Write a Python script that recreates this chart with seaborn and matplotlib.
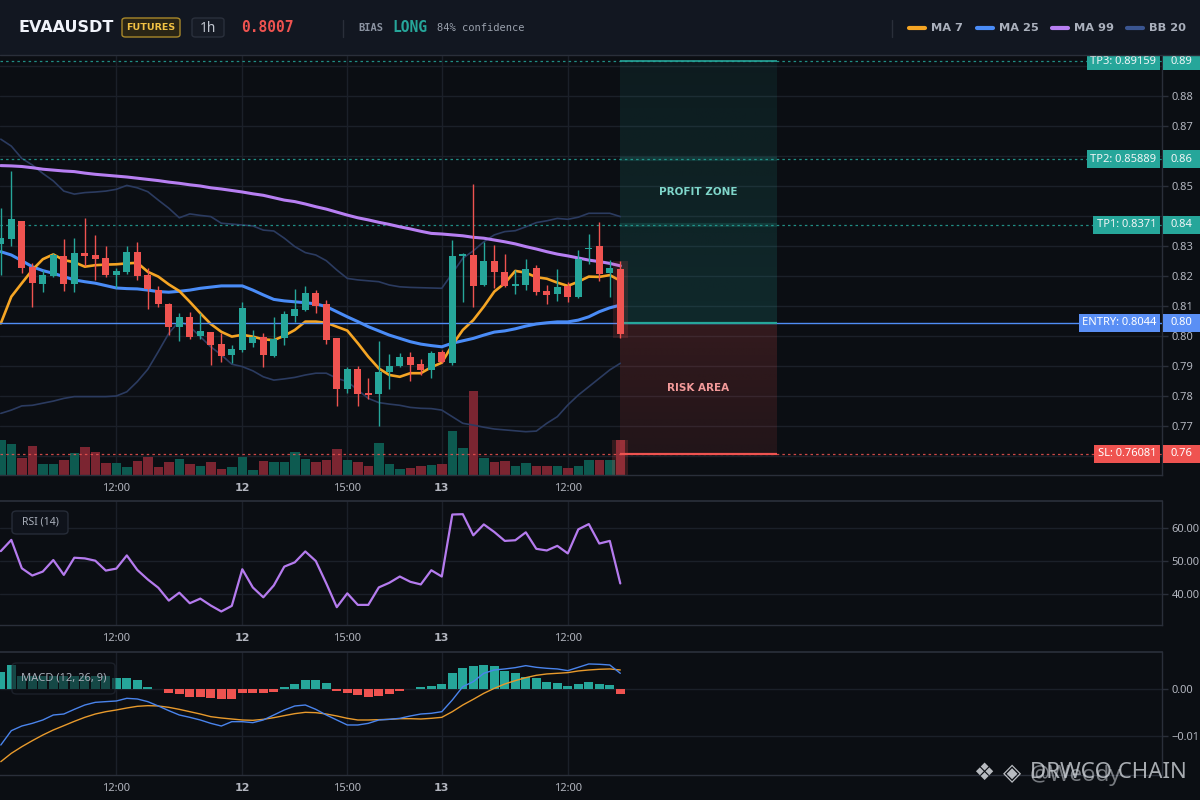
import numpy as np
import matplotlib
matplotlib.use("Agg")
import matplotlib.pyplot as plt
from matplotlib.patches import Rectangle, FancyBboxPatch
from matplotlib.lines import Line2D
from matplotlib.colors import to_rgb
import seaborn as sns

# ---------------- data ----------------
symbol = "EVAAUSDT"
market = "FUTURES"
interval = "1h"
last_price = "0.8007"
bias = "LONG"
confidence = "84% confidence"

opens = [0.8307, 0.8323, 0.8383, 0.8231, 0.8173, 0.8201, 0.8267, 0.8173, 0.8278, 0.8270,
         0.8260, 0.8203, 0.8212, 0.8280, 0.8203, 0.8153, 0.8107, 0.8031, 0.8062, 0.8000,
         0.8013, 0.7973, 0.7937, 0.7953, 0.7978, 0.7996, 0.7933, 0.7992, 0.8067, 0.8087,
         0.8142, 0.8107, 0.7992, 0.7823, 0.7890, 0.7810, 0.7807, 0.7881, 0.7900, 0.7929,
         0.7907, 0.7887, 0.7948, 0.7911, 0.8267, 0.8270, 0.8170, 0.8250, 0.8214, 0.8168,
         0.8170, 0.8228, 0.8150, 0.8141, 0.8167, 0.8131, 0.8289, 0.8300, 0.8209, 0.8222]
highs = [0.8426, 0.8550, 0.8385, 0.8242, 0.8220, 0.8276, 0.8323, 0.8328, 0.8394, 0.8337,
         0.8300, 0.8226, 0.8300, 0.8313, 0.8226, 0.8167, 0.8110, 0.8078, 0.8081, 0.8078,
         0.8015, 0.8011, 0.7970, 0.8114, 0.8020, 0.8011, 0.8064, 0.8083, 0.8156, 0.8167,
         0.8153, 0.8120, 0.7994, 0.7898, 0.7900, 0.7861, 0.7984, 0.7940, 0.7942, 0.7948,
         0.7922, 0.7951, 0.7953, 0.8320, 0.8276, 0.8507, 0.8314, 0.8303, 0.8273, 0.8220,
         0.8257, 0.8237, 0.8170, 0.8223, 0.8179, 0.8287, 0.8340, 0.8380, 0.8253, 0.8250]
lows = [0.8203, 0.8300, 0.8211, 0.8098, 0.8148, 0.8198, 0.8150, 0.8148, 0.8233, 0.8187,
        0.8198, 0.8159, 0.8207, 0.8187, 0.8090, 0.8098, 0.8003, 0.7984, 0.7989, 0.7989,
        0.7903, 0.7914, 0.7911, 0.7948, 0.7964, 0.7898, 0.7931, 0.7970, 0.8048, 0.8085,
        0.8076, 0.7973, 0.7767, 0.7811, 0.7767, 0.7791, 0.7700, 0.7823, 0.7898, 0.7851,
        0.7870, 0.7861, 0.7909, 0.7903, 0.8114, 0.8098, 0.8168, 0.8161, 0.8164, 0.8140,
        0.8153, 0.8137, 0.8107, 0.8118, 0.8114, 0.8128, 0.8239, 0.8184, 0.8131, 0.7995]
closes = [0.8326, 0.8390, 0.8228, 0.8178, 0.8203, 0.8270, 0.8173, 0.8278, 0.8267, 0.8257,
          0.8203, 0.8217, 0.8280, 0.8201, 0.8156, 0.8107, 0.8031, 0.8062, 0.7998, 0.8017,
          0.7970, 0.7933, 0.7957, 0.8094, 0.7998, 0.7937, 0.7989, 0.8073, 0.8090, 0.8142,
          0.8100, 0.7987, 0.7823, 0.7890, 0.7807, 0.7802, 0.7881, 0.7900, 0.7929, 0.7903,
          0.7887, 0.7944, 0.7912, 0.8267, 0.8272, 0.8168, 0.8250, 0.8214, 0.8168, 0.8173,
          0.8223, 0.8148, 0.8137, 0.8163, 0.8131, 0.8256, 0.8290, 0.8207, 0.8228, 0.8007]
volumes_k = [350, 310, 170, 290, 110, 110, 150, 220, 280, 230,
             120, 120, 80, 140, 180, 80, 130, 160, 110, 90,
             130, 60, 80, 180, 50, 140, 130, 130, 230, 160,
             130, 150, 260, 150, 130, 90, 320, 110, 60, 70,
             90, 100, 110, 440, 270, 840, 170, 130, 140, 90,
             120, 90, 90, 90, 70, 90, 150, 150, 150, 350]

ma7 = [0.8042, 0.8131, 0.8176, 0.8220, 0.8256, 0.8272, 0.8253, 0.8246, 0.8231, 0.8236,
       0.8238, 0.8239, 0.8242, 0.8244, 0.8214, 0.8198, 0.8172, 0.8150, 0.8114, 0.8076,
       0.8040, 0.8014, 0.7998, 0.8004, 0.7998, 0.7989, 0.7986, 0.8001, 0.8020, 0.8048,
       0.8048, 0.8044, 0.8031, 0.8018, 0.7976, 0.7931, 0.7892, 0.7870, 0.7864, 0.7876,
       0.7876, 0.7896, 0.7911, 0.7970, 0.8020, 0.8053, 0.8098, 0.8148, 0.8176, 0.8217,
       0.8211, 0.8196, 0.8191, 0.8178, 0.8167, 0.8181, 0.8198, 0.8197, 0.8203, 0.8184]
ma25 = [0.8281, 0.8270, 0.8251, 0.8231, 0.8218, 0.8209, 0.8198, 0.8187, 0.8181, 0.8176,
        0.8168, 0.8160, 0.8158, 0.8157, 0.8153, 0.8148, 0.8146, 0.8149, 0.8153, 0.8159,
        0.8163, 0.8167, 0.8167, 0.8167, 0.8153, 0.8137, 0.8122, 0.8117, 0.8114, 0.8111,
        0.8107, 0.8098, 0.8081, 0.8064, 0.8048, 0.8031, 0.8017, 0.8003, 0.7992, 0.7981,
        0.7973, 0.7968, 0.7964, 0.7976, 0.7984, 0.7992, 0.8003, 0.8013, 0.8017, 0.8024,
        0.8033, 0.8040, 0.8044, 0.8047, 0.8047, 0.8053, 0.8064, 0.8081, 0.8094, 0.8103]
ma99 = [0.8568, 0.8567, 0.8565, 0.8561, 0.8556, 0.8553, 0.8550, 0.8548, 0.8543, 0.8539,
        0.8536, 0.8533, 0.8530, 0.8526, 0.8522, 0.8518, 0.8513, 0.8509, 0.8504, 0.8500,
        0.8494, 0.8490, 0.8485, 0.8480, 0.8474, 0.8469, 0.8461, 0.8453, 0.8448, 0.8440,
        0.8431, 0.8423, 0.8413, 0.8403, 0.8394, 0.8387, 0.8379, 0.8372, 0.8364, 0.8357,
        0.8349, 0.8342, 0.8340, 0.8337, 0.8334, 0.8329, 0.8326, 0.8320, 0.8314, 0.8307,
        0.8298, 0.8290, 0.8281, 0.8273, 0.8267, 0.8260, 0.8253, 0.8248, 0.8242, 0.8234]
bb_upper = [0.8656, 0.8633, 0.8592, 0.8570, 0.8542, 0.8517, 0.8483, 0.8473, 0.8478, 0.8480,
            0.8483, 0.8489, 0.8502, 0.8494, 0.8481, 0.8453, 0.8426, 0.8394, 0.8407, 0.8402,
            0.8398, 0.8376, 0.8373, 0.8370, 0.8367, 0.8353, 0.8350, 0.8326, 0.8298, 0.8278,
            0.8270, 0.8251, 0.8220, 0.8192, 0.8187, 0.8184, 0.8181, 0.8170, 0.8164, 0.8162,
            0.8161, 0.8160, 0.8159, 0.8209, 0.8259, 0.8284, 0.8314, 0.8337, 0.8348, 0.8351,
            0.8364, 0.8378, 0.8384, 0.8392, 0.8389, 0.8396, 0.8409, 0.8409, 0.8409, 0.8398]
bb_lower = [0.7742, 0.7753, 0.7767, 0.7769, 0.7776, 0.7783, 0.7792, 0.7798, 0.7798, 0.7798,
            0.7798, 0.7800, 0.7814, 0.7848, 0.7889, 0.7948, 0.8009, 0.8050, 0.8031, 0.7998,
            0.7964, 0.7937, 0.7906, 0.7898, 0.7884, 0.7864, 0.7853, 0.7857, 0.7862, 0.7870,
            0.7876, 0.7876, 0.7859, 0.7848, 0.7820, 0.7792, 0.7778, 0.7773, 0.7769, 0.7762,
            0.7759, 0.7758, 0.7753, 0.7731, 0.7709, 0.7703, 0.7696, 0.7690, 0.7687, 0.7684,
            0.7681, 0.7683, 0.7709, 0.7731, 0.7770, 0.7803, 0.7831, 0.7859, 0.7887, 0.7909]

rsi = [53.0, 56.4, 47.8, 45.6, 46.8, 50.3, 45.8, 51.0, 50.8, 50.1,
       47.1, 47.7, 51.7, 47.3, 44.4, 41.9, 38.0, 40.4, 37.2, 38.6,
       36.5, 34.7, 36.4, 47.5, 42.0, 39.0, 42.6, 48.3, 49.6, 52.9,
       50.0, 43.2, 36.0, 40.2, 36.7, 36.7, 42.0, 43.4, 45.3, 43.7,
       42.9, 47.2, 45.3, 64.1, 64.2, 57.8, 61.1, 58.8, 56.1, 56.3,
       58.7, 53.7, 53.2, 54.6, 52.3, 59.6, 61.2, 55.3, 56.1, 43.2]

macd_line = [-0.01193, -0.00886, -0.00786, -0.00729, -0.00657, -0.00550, -0.00529, -0.00429, -0.00336, -0.00279,
             -0.00264, -0.00250, -0.00193, -0.00207, -0.00264, -0.00357, -0.00457, -0.00550, -0.00600, -0.00657,
             -0.00729, -0.00786, -0.00693, -0.00693, -0.00714, -0.00657, -0.00550, -0.00443, -0.00357, -0.00336,
             -0.00429, -0.00550, -0.00657, -0.00764, -0.00764, -0.00729, -0.00657, -0.00643, -0.00621, -0.00571,
             -0.00529, -0.00514, -0.00479, -0.00229, 0.00057, 0.00164, 0.00343, 0.00414, 0.00436, 0.00464,
             0.00507, 0.00471, 0.00450, 0.00436, 0.00400, 0.00471, 0.00543, 0.00536, 0.00521, 0.00343]
signal_line = [-0.01550, -0.01371, -0.01229, -0.01100, -0.00979, -0.00871, -0.00779, -0.00686, -0.00600, -0.00529,
               -0.00479, -0.00443, -0.00400, -0.00364, -0.00350, -0.00357, -0.00386, -0.00429, -0.00479, -0.00529,
               -0.00586, -0.00614, -0.00636, -0.00657, -0.00664, -0.00643, -0.00607, -0.00564, -0.00521, -0.00493,
               -0.00500, -0.00529, -0.00571, -0.00621, -0.00657, -0.00657, -0.00650, -0.00643, -0.00629, -0.00629,
               -0.00636, -0.00621, -0.00600, -0.00479, -0.00336, -0.00214, -0.00086, 0.00021, 0.00114, 0.00186,
               0.00250, 0.00300, 0.00329, 0.00343, 0.00357, 0.00393, 0.00414, 0.00429, 0.00436, 0.00414]
macd_hist = [0.0038, 0.0052, 0.0029, 0.0029, 0.0029, 0.0029, 0.0029, 0.0029, 0.0029, 0.0029,
             0.0029, 0.0025, 0.0025, 0.0020, 0.0006, 0.0001, -0.0007, -0.0010, -0.0016, -0.0016,
             -0.0018, -0.0020, -0.0020, -0.0007, -0.0007, -0.0007, -0.0006, 0.0006, 0.0011, 0.0019,
             0.0021, 0.0014, -0.0004, -0.0007, -0.0012, -0.0017, -0.0014, -0.0009, -0.0004, 0.0001,
             0.0004, 0.0007, 0.0011, 0.0034, 0.0046, 0.0049, 0.0051, 0.0049, 0.0040, 0.0034,
             0.0027, 0.0025, 0.0016, 0.0013, 0.0008, 0.0012, 0.0016, 0.0012, 0.0010, -0.0010]

time_tick_pos = [11, 23, 33, 42, 54]
time_tick_labels = ["12:00", "12", "15:00", "13", "12:00"]
time_tick_bold = [False, True, False, True, False]

entry_price = 0.8044
stop_loss = 0.76081
take_profits = [0.8371, 0.85889, 0.89159]
tp_names = ["TP1", "TP2", "TP3"]
tp_axis_labels = ["0.84", "0.86", "0.89"]
price_ticks = [0.76, 0.77, 0.78, 0.79, 0.80, 0.81, 0.82, 0.83, 0.84, 0.85, 0.86, 0.87, 0.88, 0.89]
covered_ticks = [0.76, 0.84, 0.86, 0.89]   # shown inside the coloured level boxes instead
rsi_ticks = [40, 50, 60]
macd_ticks = [-0.01, 0.0]

# ---------------- style ----------------
sns.set_theme(style="dark")
plt.rcParams["font.family"] = ["Noto Sans", "DejaVu Sans"]
plt.rcParams["axes.unicode_minus"] = True

BG = "#0b0e13"
HEADER = "#121721"
GRID = "#1b2029"
BORDER = "#2a2f3a"
TXT = "#b2b5be"
TEAL = "#26a69a"
RED = "#ef5350"
VOL_UP = "#0d5a50"
VOL_DN = "#7b2531"
C_MA7 = "#f5a524"
C_MA25 = "#4a8cf7"
C_MA99 = "#b77ff2"
C_BB = "#2b3b60"
C_ENTRY = "#4f8df5"

W, H = 1200, 800
fig = plt.figure(figsize=(12, 8), dpi=100)
fig.patch.set_facecolor(BG)


def fx(x):
    return x / W


def fy(y):
    return 1 - y / H


ax = fig.add_axes([0, fy(475), fx(1162), (475 - 55) / H])
ax_rsi = fig.add_axes([0, fy(625), fx(1162), (625 - 501) / H], sharex=ax)
ax_macd = fig.add_axes([0, fy(775), fx(1162), (775 - 652) / H], sharex=ax)

XL = (-0.8 / 10.5, (1162 - 0.8) / 10.5)
idx = np.arange(len(closes))
o = np.array(opens); c = np.array(closes); hi = np.array(highs); lo = np.array(lows)
up = c >= o

for a in (ax, ax_rsi, ax_macd):
    a.set_facecolor(BG)
    for s in ("left", "top"):
        a.spines[s].set_visible(False)
    for s in ("right", "bottom"):
        a.spines[s].set_color(BORDER)
        a.spines[s].set_linewidth(1)
    a.yaxis.tick_right()
    a.tick_params(axis="y", colors=BORDER, labelcolor=TXT, labelsize=8, length=4, width=1, pad=3)
    a.tick_params(axis="x", length=0, labelsize=8, labelcolor=TXT, pad=6)
    a.grid(True, color=GRID, lw=1)
    a.set_axisbelow(True)
for a in (ax_rsi, ax_macd):
    a.spines["top"].set_visible(True)
    a.spines["top"].set_color(BORDER)

# ---------------- main price panel ----------------
axv = ax.inset_axes([0, 0, 1, 0.25], sharex=ax)
axv.set_zorder(2)
axv.patch.set_visible(False)
axv.axis("off")
axv.bar(idx, volumes_k, width=0.9, color=np.where(up, VOL_UP, VOL_DN), linewidth=0)
axv.bar(idx[-1:], [volumes_k[-1]], width=1.5, color=RED, alpha=0.18, linewidth=0)
axv.set_ylim(0, 1050)

sns.lineplot(x=idx, y=bb_upper, ax=ax, color=C_BB, linewidth=1.2, zorder=3)
sns.lineplot(x=idx, y=bb_lower, ax=ax, color=C_BB, linewidth=1.2, zorder=3)
sns.lineplot(x=idx, y=ma99, ax=ax, color=C_MA99, linewidth=2.2, zorder=4)
sns.lineplot(x=idx, y=ma25, ax=ax, color=C_MA25, linewidth=2.2, zorder=4)
sns.lineplot(x=idx, y=ma7, ax=ax, color=C_MA7, linewidth=1.9, zorder=4)

cols = np.where(up, TEAL, RED)
ax.vlines(idx, lo, hi, colors=cols, linewidth=1, zorder=5)
ax.bar(idx, np.maximum(np.abs(c - o), 0.0004), bottom=np.minimum(o, c), width=0.66,
       color=cols, linewidth=0, zorder=6)
ax.bar(idx[-1:], [hi[-1] - lo[-1]], bottom=[lo[-1]], width=1.4, color=RED, alpha=0.15,
       linewidth=0, zorder=5)

z0, z1 = (620 - 0.8) / 10.5, (777 - 0.8) / 10.5


def grad_rect(a, x0, x1, y0, y1, color, a_top, a_bot, z):
    n = 256
    img = np.zeros((n, 1, 4))
    img[..., :3] = to_rgb(color)
    img[..., 3] = np.linspace(a_top, a_bot, n)[:, None]
    a.imshow(img, extent=[x0, x1, y0, y1], origin="upper", aspect="auto",
             zorder=z, interpolation="bilinear")


grad_rect(ax, z0, z1, entry_price, take_profits[-1], TEAL, 0.09, 0.18, 2.5)
grad_rect(ax, z0, z1, stop_loss, entry_price, RED, 0.18, 0.10, 2.5)

ax.axhline(entry_price, color=C_ENTRY, lw=1, zorder=4.5)
for tp in take_profits:
    ax.axhline(tp, color=TEAL, lw=0.9, ls=(0, (2, 2.5)), alpha=0.85, zorder=3)
ax.axhline(stop_loss, color=RED, lw=0.9, ls=(0, (2, 2.5)), alpha=0.85, zorder=3)
ax.hlines(take_profits[-1], z0, z1, color=TEAL, lw=1.2, zorder=4)
for tp in take_profits[:-1]:
    ax.hlines(tp, z0, z1, color=TEAL, lw=3, alpha=0.18, zorder=4)
ax.hlines(entry_price, z0, z1, color=TEAL, lw=1.6, zorder=4.6)
ax.hlines(stop_loss, z0, z1, color=RED, lw=1.6, zorder=4)
ax.text((z0 + z1) / 2, (entry_price + take_profits[-1]) / 2, "PROFIT ZONE", color="#7fd6ca",
        fontsize=7.5, fontweight="bold", family="DejaVu Sans", ha="center", va="center", zorder=7)
ax.text((z0 + z1) / 2, (entry_price + stop_loss) / 2, "RISK AREA", color="#f39a9a",
        fontsize=7.5, fontweight="bold", family="DejaVu Sans", ha="center", va="center", zorder=7)

ax.set_ylim(0.80 - 139 / 3000, 0.80 + 281 / 3000)
ax.set_yticks(price_ticks)
ax.set_yticklabels(["" if t in covered_ticks else f"{t:.2f}" for t in price_ticks])

# ---------------- RSI ----------------
sns.lineplot(x=idx, y=rsi, ax=ax_rsi, color="#b57bee", linewidth=1.6)
ax_rsi.set_ylim(30.6, 68.2)
ax_rsi.set_yticks(rsi_ticks)
ax_rsi.set_yticklabels([f"{t:.2f}" for t in rsi_ticks])

# ---------------- MACD ----------------
hist = np.array(macd_hist)
ax_macd.bar(idx, hist, width=0.82, color=np.where(hist >= 0, TEAL, RED), linewidth=0, zorder=2)
sns.lineplot(x=idx, y=signal_line, ax=ax_macd, color="#e89a2c", linewidth=1.0, zorder=3)
sns.lineplot(x=idx, y=macd_line, ax=ax_macd, color="#4a84ec", linewidth=1.0, zorder=3)
ax_macd.set_ylim(-0.01835, 0.00799)
ax_macd.set_yticks(macd_ticks)
ax_macd.set_yticklabels(["\u22120.01", "0.00"])

for a in (ax, ax_rsi, ax_macd):
    a.set_xlim(*XL)
    a.set_xticks(time_tick_pos)
    a.set_xticklabels(time_tick_labels)
    for lab, b in zip(a.get_xticklabels(), time_tick_bold):
        lab.set_fontweight("bold" if b else "normal")
        lab.set_family("DejaVu Sans" if b else ["Noto Sans", "DejaVu Sans"])
    a.set_xlabel("")
    a.set_ylabel("")

fig.add_artist(FancyBboxPatch((fx(12), fy(534)), fx(68) - fx(12), (534 - 511) / H,
                              boxstyle="round,pad=0,rounding_size=0.004", transform=fig.transFigure,
                              facecolor="#0f131b", edgecolor="#262c38", lw=1, zorder=5))
fig.text(fx(40), fy(522.5), "RSI (14)", color="#a9afba", fontsize=7.5, ha="center", va="center", zorder=6)
fig.add_artist(FancyBboxPatch((fx(12), fy(694)), fx(115) - fx(12), (694 - 663) / H,
                              boxstyle="round,pad=0,rounding_size=0.004", transform=fig.transFigure,
                              facecolor=BG, alpha=0.62, edgecolor="#262c38", lw=1, zorder=5))
fig.text(fx(63.5), fy(678.5), "MACD (12, 26, 9)", color="#a9afba", fontsize=8, ha="center",
         va="center", zorder=6)


def y_frac(price):
    return ax.transData.transform((0, price))[1] / fig.bbox.height


def side_box(x0, x1, yc, fc, text, tc="#f2f5f7", fs=8):
    h = 18
    fig.add_artist(Rectangle((fx(x0), yc - h / 2 / H), (x1 - x0) / W, h / H,
                             transform=fig.transFigure, facecolor=fc, edgecolor="none", zorder=5))
    fig.text(fx((x0 + x1) / 2), yc, text, color=tc, fontsize=fs, ha="center", va="center", zorder=6)


tp_left = [1093, 1087, 1087]
for name, tp, lab, xl in zip(tp_names, take_profits, tp_axis_labels, tp_left):
    yc = y_frac(tp)
    side_box(xl, 1160, yc, TEAL, f"{name}: {tp}")
    side_box(1163, 1200, yc, TEAL, lab)
yc = y_frac(entry_price)
side_box(1079, 1160, yc, "#5a8ff5", f"ENTRY: {entry_price}", tc="white")
side_box(1163, 1200, yc, "#5a8ff5", "0.80", tc="white")
yc = y_frac(stop_loss)
side_box(1094, 1160, yc, RED, f"SL: {stop_loss}", tc="white")
side_box(1163, 1200, yc, RED, "0.76", tc="white")

# ---------------- header ----------------
fig.add_artist(Rectangle((0, fy(55)), 1, 55 / H, transform=fig.transFigure,
                         facecolor=HEADER, edgecolor="none", zorder=7))
fig.add_artist(Line2D([0, 1], [fy(55), fy(55)], color=BORDER, lw=1, zorder=8))
hy = fy(28)
fig.text(fx(18), hy, symbol, color="#f0f3fa", fontsize=11.5, fontweight="bold",
         family="DejaVu Sans", va="center", zorder=9)
fig.add_artist(FancyBboxPatch((fx(122), fy(37)), fx(180) - fx(122), 19 / H,
                              boxstyle="round,pad=0,rounding_size=0.003", transform=fig.transFigure,
                              facecolor="#2a2515", edgecolor="#a8882a", lw=1, zorder=8))
fig.text(fx(151), hy, market, color="#f2c244", fontsize=6.8, fontweight="bold",
         family="DejaVu Sans", ha="center", va="center", zorder=9)
fig.add_artist(FancyBboxPatch((fx(192), fy(37)), fx(224) - fx(192), 19 / H,
                              boxstyle="round,pad=0,rounding_size=0.003", transform=fig.transFigure,
                              facecolor="#161b25", edgecolor="#2a303c", lw=1, zorder=8))
fig.text(fx(208), hy, interval, color="#c0c5ce", fontsize=10, ha="center", va="center", zorder=9)
fig.text(fx(241), hy, last_price, color=RED, fontsize=10.5, fontweight="bold",
         family="DejaVu Sans Mono", va="center", zorder=9)
fig.add_artist(Line2D([fx(343), fx(343)], [fy(20), fy(37)], color=BORDER, lw=1, zorder=8))
fig.text(fx(358), hy, "BIAS", color="#8b93a1", fontsize=7.5, fontweight="bold",
         family="DejaVu Sans Mono", va="center", zorder=9)
fig.text(fx(392), hy, bias, color=TEAL, fontsize=10.5, fontweight="bold",
         family="DejaVu Sans Mono", va="center", zorder=9)
fig.text(fx(437), hy, confidence, color="#9aa1ad", fontsize=7.5,
         family="DejaVu Sans Mono", va="center", zorder=9)

fig.add_artist(Line2D([fx(892), fx(892)], [fy(20), fy(37)], color=BORDER, lw=1, zorder=8))
legend_items = [("MA 7", C_MA7, 909), ("MA 25", C_MA25, 977), ("MA 99", C_MA99, 1052), ("BB 20", "#3a5590", 1127)]
for lab, col, x0 in legend_items:
    fig.add_artist(Line2D([fx(x0), fx(x0 + 16)], [hy, hy], color=col, lw=3, solid_capstyle="round", zorder=9))
    fig.text(fx(x0 + 22), hy, lab, color="#aab0bc", fontsize=8.2, fontweight="bold",
             family="DejaVu Sans", va="center", zorder=9)

# watermark (two overlapping marks, as in the reference)
fig.text(fx(973), fy(773), "\u2756", color="#d6d9de", fontsize=17, va="center", alpha=0.85,
         family="DejaVu Sans", zorder=9)
fig.text(fx(1003), fy(773), "\u25c8", color="#d6d9de", fontsize=17, va="center", alpha=0.85,
         family="DejaVu Sans", zorder=9)
fig.text(fx(1030), fy(773), "DRWCO CHAIN", color="#cfd3d9", fontsize=16, va="center", alpha=0.8, zorder=9)
fig.text(fx(1030), fy(775), "@Weody", color="#cfd3d9", fontsize=16, va="center", alpha=0.55, zorder=9)

fig.savefig("out.png", dpi=100, facecolor=BG)
